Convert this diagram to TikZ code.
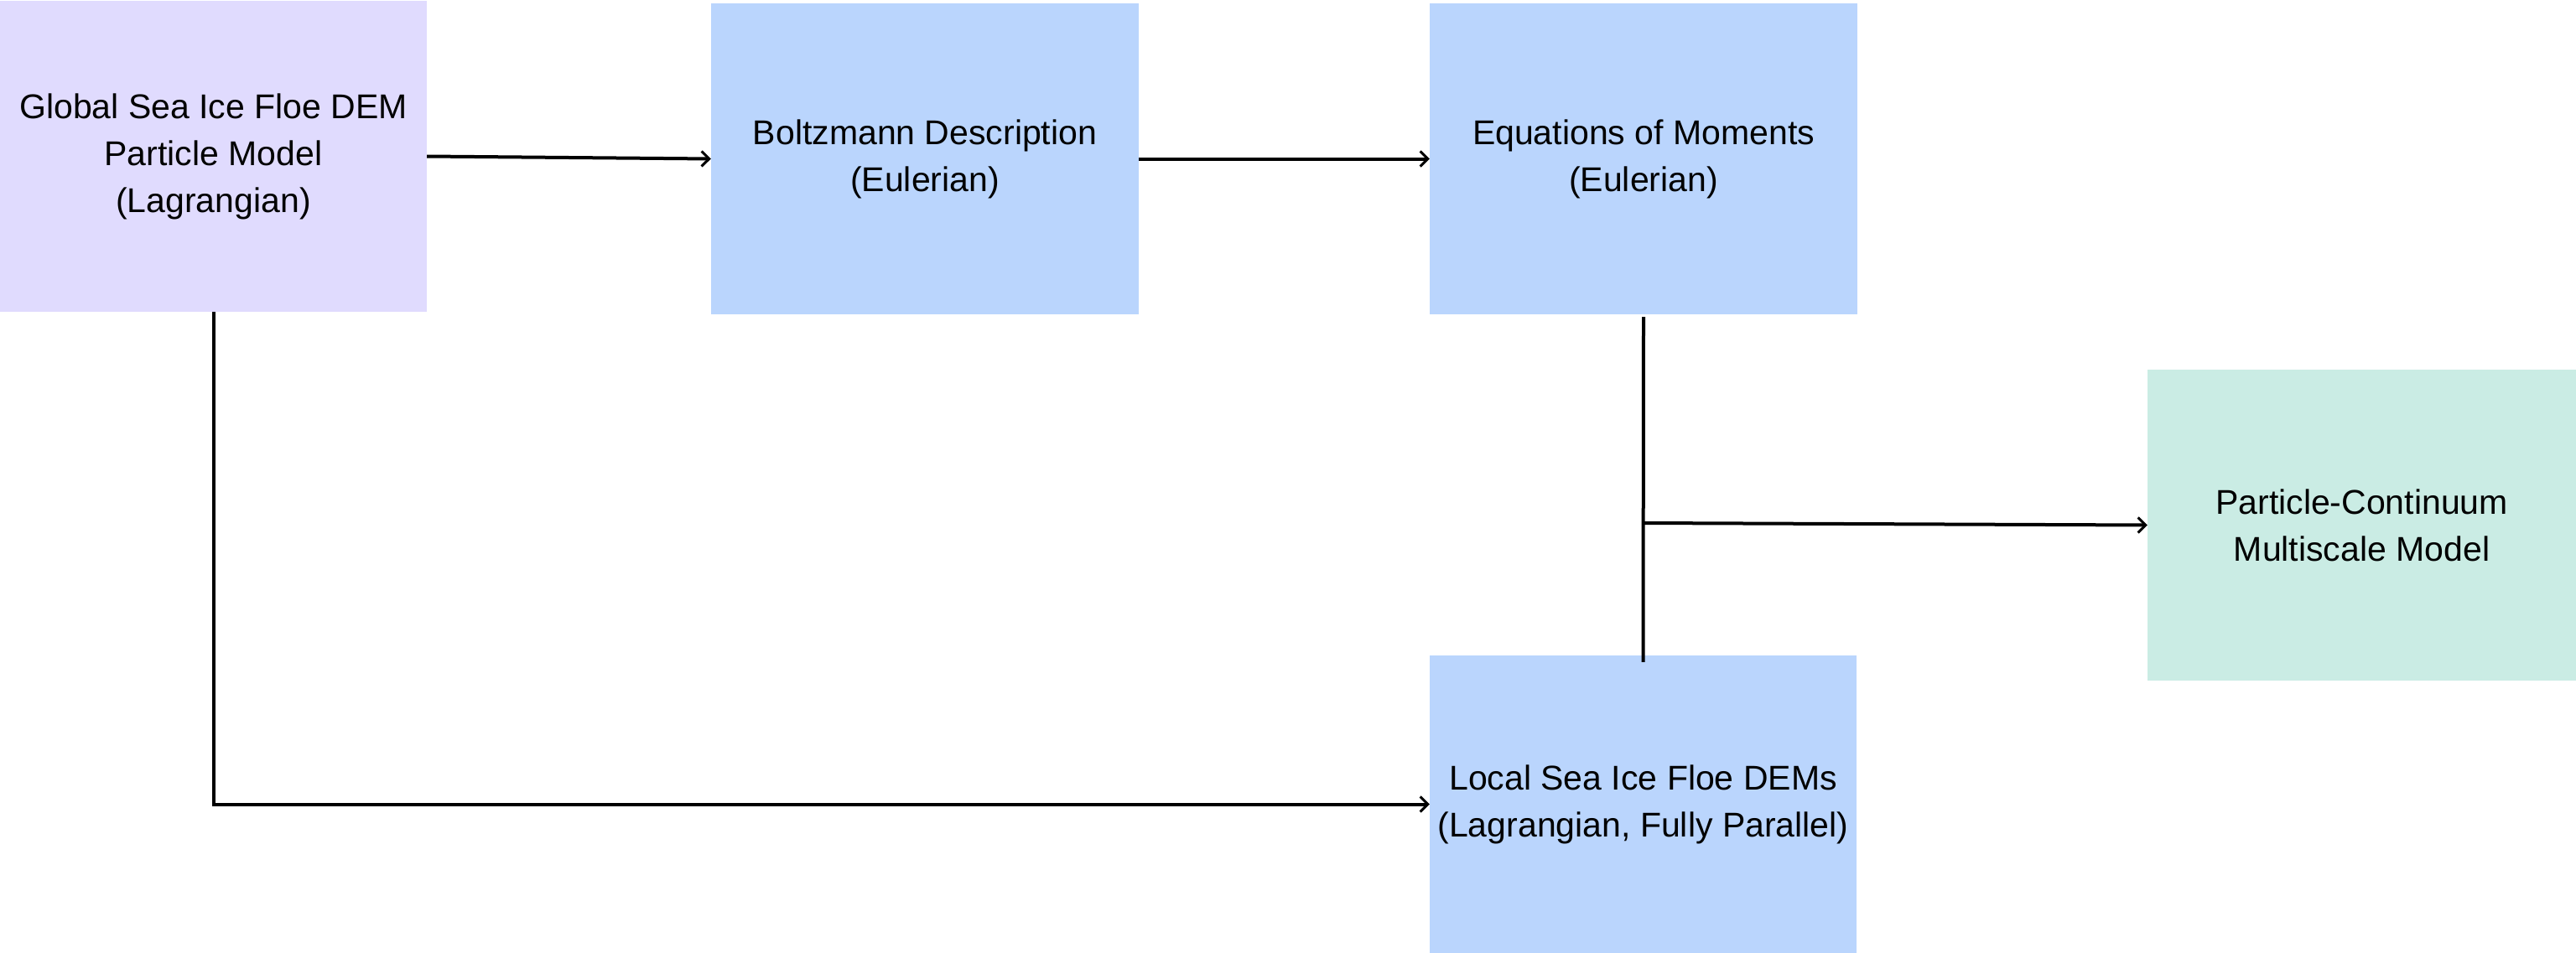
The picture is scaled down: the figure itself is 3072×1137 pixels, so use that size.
\documentclass[tikz,border=0pt]{standalone}
\usepackage{fontspec}
\setmainfont{Liberation Sans}
\usetikzlibrary{arrows.meta}
\definecolor{cpurple}{HTML}{E0DBFE}
\definecolor{cblue}{HTML}{BAD5FD}
\definecolor{cgreen}{HTML}{CAECE4}
\begin{document}
\begin{tikzpicture}[x=1pt,y=-1pt,
  box/.style={rectangle,inner sep=0pt,align=center,font=\fontsize{41}{56}\selectfont},
  conn/.style={line width=4pt,draw=black},
  arr/.style={conn,-{Straight Barb[length=9pt,width=18pt,line width=3pt]}}]
\useasboundingbox (0,0) rectangle (3072,1137);
\node[box,fill=cpurple,minimum width=509pt,minimum height=371pt] (b1) at (254.5,186.5) {Global Sea Ice Floe DEM\\Particle Model\\(Lagrangian)};
\node[box,fill=cblue,minimum width=510pt,minimum height=371pt] (b2) at (1103,189.5) {Boltzmann Description\\(Eulerian)};
\node[box,fill=cblue,minimum width=510pt,minimum height=371pt] (b3) at (1960,189.5) {Equations of Moments\\(Eulerian)};
\node[box,fill=cgreen,minimum width=511pt,minimum height=371pt] (b4) at (2816.5,626.5) {Particle-Continuum\\Multiscale Model};
\node[box,fill=cblue,minimum width=509pt,minimum height=355pt] (b5) at (1959.5,959.5) {Local Sea Ice Floe DEMs\\(Lagrangian, Fully Parallel)};
\draw[arr] (b1.east) -- (b2.west);
\draw[arr] (b2.east) -- (b3.west);
\draw[conn] ([yshift=-3pt]b3.south) -- ([yshift=-8pt]b5.north);
\coordinate (j) at (b3.south |- 0,624);
\draw[arr] (j) -- (b4.west);
\draw[arr] (b1.south) |- (b5.west);
\end{tikzpicture}
\end{document}
